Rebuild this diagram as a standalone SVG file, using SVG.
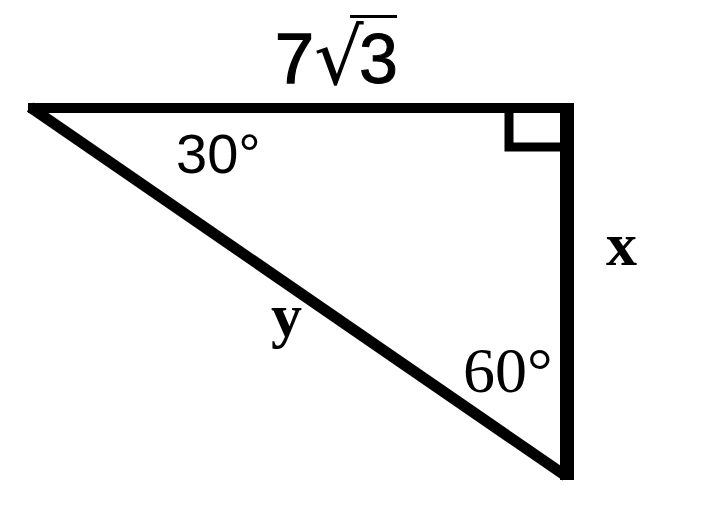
<svg xmlns="http://www.w3.org/2000/svg" width="711" height="515" viewBox="0 0 711 515">
<style>
.edge{stroke:#000;fill:none;stroke-linecap:butt}
.sans{font-family:"Liberation Sans","DejaVu Sans",sans-serif;fill:#000}
.serif{font-family:"Liberation Serif","DejaVu Serif",serif;fill:#000}
.var{font-weight:bold}
</style>
<rect width="711" height="515" fill="#fff"/>
<g id="triangle">
<line class="edge" x1="28" y1="108" x2="574" y2="108" stroke-width="10"/>
<line class="edge" x1="567" y1="103" x2="567" y2="480" stroke-width="14"/>
<line class="edge" x1="30" y1="107" x2="566" y2="476" stroke-width="11"/>
<polyline class="edge" points="509,113 509,147 562,147" stroke-width="9"/>
</g>
<g id="labels">
<text class="sans" x="275" y="83" font-size="70" stroke="#000" stroke-width="1.5">7</text>
<text x="314" y="84" font-size="78" font-family="'DejaVu Sans',sans-serif" fill="#000">√</text>
<line class="edge" x1="350" y1="16.5" x2="397" y2="16.5" stroke-width="3"/>
<text class="sans" x="359" y="83" font-size="70" stroke="#000" stroke-width="1">3</text>
<text class="sans" x="176" y="173" font-size="56">30°</text>
<text class="serif var" x="606" y="265" font-size="62">x</text>
<text class="serif var" x="271" y="336" font-size="62">y</text>
<text class="serif" x="463" y="392" font-size="64">60°</text>
</g>
</svg>
